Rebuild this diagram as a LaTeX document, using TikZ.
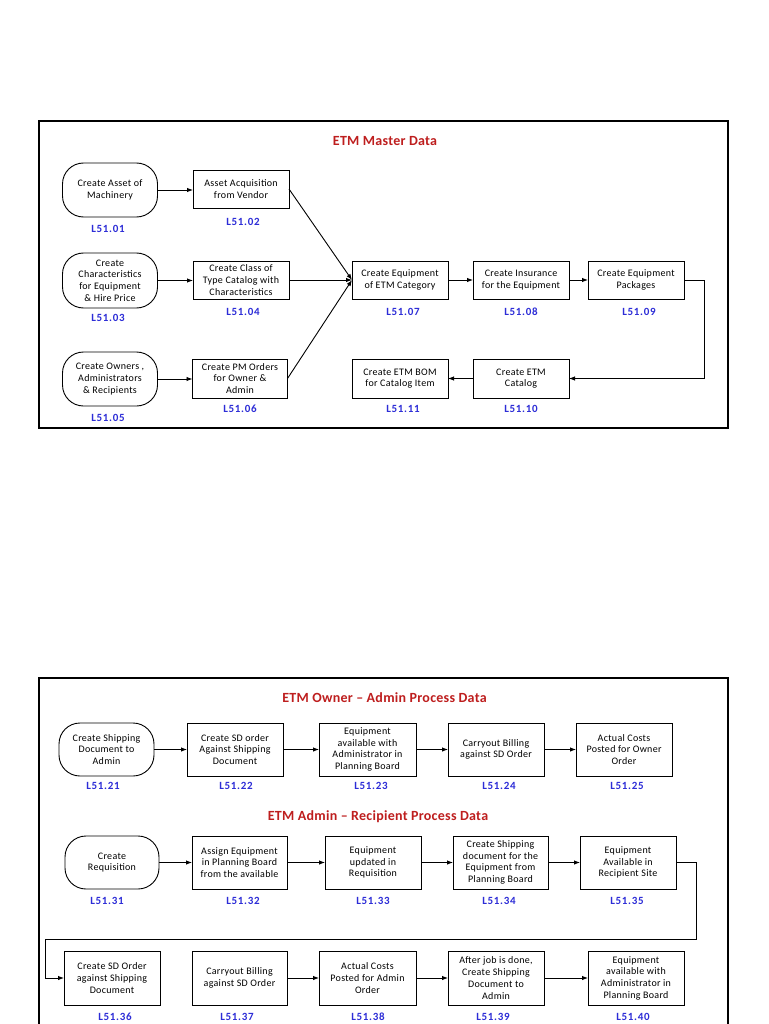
\documentclass[tikz,border=0pt]{standalone}
\usepackage{fontspec}
\setmainfont{Carlito}
\newfontfamily\boxfont[LetterSpace=3]{Carlito}
\newfontfamily\lblfont[LetterSpace=6]{Carlito}
\newfontfamily\ttlfont[LetterSpace=2]{Carlito}
\usetikzlibrary{arrows.meta,calc}
\definecolor{lblblue}{RGB}{45,45,215}
\definecolor{ttlred}{RGB}{190,30,30}
\begin{document}
\begin{tikzpicture}[x=1pt,y=-1pt,
  every node/.style={inner sep=0pt,outer sep=0pt},
  box/.style={draw,line width=0.9pt,minimum width=96pt,minimum height=38pt,align=center,font=\boxfont\fontsize{10}{11.7}\selectfont},
  stad/.style={box,rounded corners=21pt},
  lbl/.style={text=lblblue,font=\lblfont\fontsize{11}{13}\selectfont\bfseries},
  ttl/.style={text=ttlred,font=\ttlfont\fontsize{14}{16}\selectfont\bfseries},
  arr/.style={line width=0.9pt,-{Latex[length=6pt,width=4.5pt]}},
  frame/.style={line width=1.6pt}]
\useasboundingbox (0,0) rectangle (768,1024);
\fill[white] (0,0) rectangle (768,1024);
% ---------- top panel ----------
\draw[frame] (39,121) rectangle (728,428);
\node[ttl] (t1) at (385,141) {ETM Master Data};
\node[stad,minimum width=95pt,minimum height=54pt] (n01) at (110,190) {Create Asset of\\Machinery};
\node[box] (n02) at (241,189) {Asset Acquisition\\from Vendor};
\node[stad,minimum width=95pt,minimum height=55pt] (n03) at (110,280.5) {Create\\Characteristics\\for Equipment\\\& Hire Price};
\node[box] (n04) at (241,280) {Create Class of\\Type Catalog with\\Characteristics};
\node[stad,minimum width=95pt,minimum height=54pt] (n05) at (110,379) {Create Owners ,\\Administrators\\\& Recipients};
\node[box,minimum width=95pt,minimum height=39pt] (n06) at (240,378.5) {Create PM Orders\\for Owner \&\\Admin};
\node[box] (n07) at (400,280) {Create Equipment\\of ETM Category};
\node[box] (n08) at (521,280) {Create Insurance\\for the Equipment};
\node[box] (n09) at (636,280) {Create Equipment\\Packages};
\node[box,minimum height=39pt] (n10) at (521,378.5) {Create ETM\\Catalog};
\node[box,minimum height=39pt] (n11) at (400,378.5) {Create ETM BOM\\for Catalog Item};
\node[lbl] (l01) at (108,229) {L51.01};
\node[lbl] (l02) at (243,222) {L51.02};
\node[lbl] (l03) at (108,318) {L51.03};
\node[lbl] (l04) at (243,312) {L51.04};
\node[lbl] (l05) at (108,418) {L51.05};
\node[lbl] (l06) at (240,409) {L51.06};
\node[lbl] (l07) at (403,312) {L51.07};
\node[lbl] (l08) at (521,312) {L51.08};
\node[lbl] (l09) at (639,312) {L51.09};
\node[lbl] (l10) at (521,409) {L51.10};
\node[lbl] (l11) at (403,409) {L51.11};
\draw[arr] (n01.east) -- (n01.east -| n02.west);
\draw[arr] (n03.east) -- (n03.east -| n04.west);
\draw[arr] (n05.east) -- (n05.east -| n06.west);
\draw[arr] (n02.east) -- (n07.west);
\draw[arr] (n04.east) -- (n07.west);
\draw[arr] (n06.east) -- (n07.west);
\draw[arr] (n07.east) -- (n08.west);
\draw[arr] (n08.east) -- (n09.west);
\draw[arr] (n09.east) -- ++(20,0) |- (n10.east);
\draw[arr] (n10.west) -- (n11.east);
% ---------- bottom panel ----------
\draw[frame] (39,1040) -- (39,678) -- (728,678) -- (728,1040);
\node[ttl] (t2) at (384.5,698) {ETM Owner – Admin Process Data};
\node[ttl] (t3) at (378,817) {ETM Admin – Recipient Process Data};
\tikzset{tall/.style={minimum height=53pt}}
\node[stad,tall,minimum width=95pt] (n21) at (106.5,749.5) {Create Shipping\\Document to\\Admin};
\node[box,tall] (n22) at (235,749.5) {Create SD order\\Against Shipping\\Document};
\node[box,tall,minimum width=97pt] (n23) at (367.5,749.5) {Equipment\\available with\\Administrator in\\Planning Board};
\node[box,tall] (n24) at (496,749.5) {Carryout Billing\\against SD Order};
\node[box,tall] (n25) at (624,749.5) {Actual Costs\\Posted for Owner\\Order};
\node[stad,tall,minimum width=94pt] (n31) at (112,862.5) {Create\\Requisition};
\node[box,tall,minimum width=95pt] (n32) at (239.5,862.5) {Assign Equipment\\in Planning Board\\from the available};
\node[box,tall] (n33) at (373,862.5) {Equipment\\updated in\\Requisition};
\node[box,tall,minimum width=95pt] (n34) at (500.5,862.5) {Create Shipping\\document for the\\Equipment from\\Planning Board};
\node[box,tall] (n35) at (628,862.5) {Equipment\\Available in\\Recipient Site};
\node[box,minimum height=54pt] (n36) at (112,978) {Create SD Order\\against Shipping\\Document};
\node[box,minimum height=54pt,minimum width=95pt] (n37) at (239.5,978) {Carryout Billing\\against SD Order};
\node[box,minimum height=54pt,minimum width=97pt] (n38) at (367.5,978) {Actual Costs\\Posted for Admin\\Order};
\node[box,minimum height=54pt] (n39) at (496,978) {After job is done,\\Create Shipping\\Document to\\Admin};
\node[box,minimum height=54pt] (n40) at (636,978) {Equipment\\available with\\Administrator in\\Planning Board};
\node[lbl] (l21) at (103,786) {L51.21};
\node[lbl] (l22) at (236,786) {L51.22};
\node[lbl] (l23) at (371,786) {L51.23};
\node[lbl] (l24) at (499,786) {L51.24};
\node[lbl] (l25) at (627,786) {L51.25};
\node[lbl] (l31) at (107,901) {L51.31};
\node[lbl] (l32) at (243,901) {L51.32};
\node[lbl] (l33) at (373,901) {L51.33};
\node[lbl] (l34) at (499,901) {L51.34};
\node[lbl] (l35) at (627,901) {L51.35};
\node[lbl] (l36) at (115,1017) {L51.36};
\node[lbl] (l37) at (237,1017) {L51.37};
\node[lbl] (l38) at (368,1017) {L51.38};
\node[lbl] (l39) at (493,1017) {L51.39};
\node[lbl] (l40) at (633,1017) {L51.40};
\draw[arr] (n21.east) -- (n21.east -| n22.west);
\draw[arr] (n22.east) -- (n22.east -| n23.west);
\draw[arr] (n23.east) -- (n23.east -| n24.west);
\draw[arr] (n24.east) -- (n24.east -| n25.west);
\draw[arr] (n31.east) -- (n31.east -| n32.west);
\draw[arr] (n32.east) -- (n32.east -| n33.west);
\draw[arr] (n33.east) -- (n33.east -| n34.west);
\draw[arr] (n34.east) -- (n34.east -| n35.west);
\coordinate (c1) at (696,939);
\coordinate (c2) at (45,939);
\draw[arr] (n35.east) -| (c1) -- (c2) |- (n36.west);
\draw[arr] (n37.east) -- (n37.east -| n38.west);
\draw[arr] (n38.east) -- (n38.east -| n39.west);
\draw[arr] (n39.east) -- (n39.east -| n40.west);
\end{tikzpicture}
\end{document}
